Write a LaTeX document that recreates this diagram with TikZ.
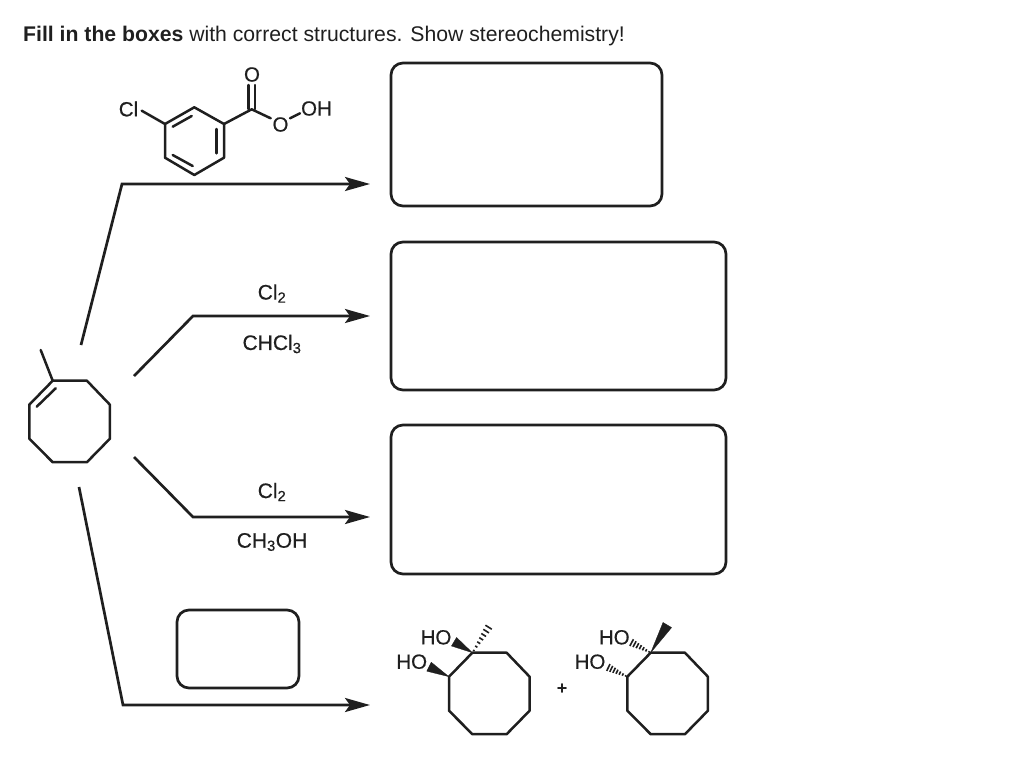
\documentclass[tikz,border=0pt]{standalone}
\usepackage{fontspec}
\setmainfont{Liberation Sans}
\newfontfamily\chemfont[FakeBold=0.5]{Liberation Sans}
\usetikzlibrary{calc,arrows.meta}
\tikzset{
  bond/.style={line width=2.5pt,line cap=round,line join=round,draw=black!88},
  link/.style={line width=2.7pt,line join=miter,draw=black!88},
  arrowlink/.style={link,-{Stealth[length=25pt,width=14pt,inset=5pt]}},
  answerbox/.style={draw=black!88,line width=2.7pt,rounded corners=12pt,fill=white,inner sep=0pt,minimum width=0pt},
  atom/.style={font=\fontsize{20.5}{24}\chemfont,text=black!88,inner sep=0pt},
  reagent/.style={font=\fontsize{21}{24}\chemfont,text=black!88,inner sep=0pt},
  title/.style={font=\fontsize{21.2}{25}\selectfont,text=black!88,inner sep=0pt,anchor=base west},
  wedgefill/.style={fill=black!88,draw=black!88,line width=0.3pt,line join=round}
}
% octagon: #1 prefix, #2 x-left, #3 y-top
\newcommand{\octa}[3]{%
  \coordinate (#1a) at (#2+23.4,#3);
  \coordinate (#1b) at (#2+57.6,#3);
  \coordinate (#1c) at (#2+80.6,#3+24);
  \coordinate (#1d) at (#2+80.6,#3+58);
  \coordinate (#1e) at (#2+57.6,#3+81.5);
  \coordinate (#1f) at (#2+23.4,#3+81.5);
  \coordinate (#1g) at (#2,#3+58);
  \coordinate (#1h) at (#2,#3+24);
  \draw[bond] (#1a)--(#1b)--(#1c)--(#1d)--(#1e)--(#1f)--(#1g)--(#1h)--cycle;
}
\newcommand{\hashbond}[2]{%
  \foreach \t/\w in {0.08/0.8,0.22/1.3,0.36/1.8,0.5/2.3,0.64/2.8,0.78/3.3,0.92/3.8}{
    \draw[line width=1.6pt,draw=black!88]
      ($(#1)!\t!(#2)!\w pt!90:(#2)$) -- ($(#1)!\t!(#2)!\w pt!-90:(#2)$);
  }%
}
\newcommand{\wedgebond}[2]{%
  \fill[wedgefill] (#1) -- ($(#2)!5pt!90:(#1)$) -- ($(#2)!5pt!-90:(#1)$) -- cycle;
}
\begin{document}
\begin{tikzpicture}[x=1pt,y=-1pt]
\useasboundingbox (0,0) rectangle (1024,779);

% title
\node[title] (ttl) at (23,41.5) {\textbf{Fill in the boxes} with correct structures. Show stereochemistry!};

% answer boxes
\node[answerbox,minimum width=271pt,minimum height=143pt] (box1) at (526.5,134.5) {};
\node[answerbox,minimum width=335pt,minimum height=148pt] (box2) at (558.5,316) {};
\node[answerbox,minimum width=335pt,minimum height=149pt] (box3) at (558.5,499.5) {};
\node[answerbox,minimum width=122pt,minimum height=78pt] (box4) at (238,649) {};

% reactant
\octa{r}{29.3}{380.7}
\coordinate (rme) at (40.7,350);
\coordinate (rd1) at (55.7,388.3);
\coordinate (rd2) at (36.7,406.7);
\draw[bond] (ra)--(rme);
\draw[bond] (rd1)--(rd2);

% arrows
\coordinate (s1) at (81,345);  \coordinate (k1) at (122,184); \coordinate (e1) at (370,184);
\coordinate (s2) at (134,376); \coordinate (k2) at (193,316); \coordinate (e2) at (370,316);
\coordinate (s3) at (134,457); \coordinate (k3) at (193,517); \coordinate (e3) at (370,517);
\coordinate (s4) at (79,487);  \coordinate (k4) at (123,705); \coordinate (e4) at (370,705);
\draw[arrowlink] (s1)--(k1)--(e1);
\draw[arrowlink] (s2)--(k2)--(e2);
\draw[arrowlink] (s3)--(k3)--(e3);
\draw[arrowlink] (s4)--(k4)--(e4);

% reagents
\node[reagent] (cl1) at (272,293.5) {Cl\textsubscript{2}};
\node[reagent] (chcl) at (272,344) {CHCl\textsubscript{3}};
\node[reagent] (cl2) at (272,492) {Cl\textsubscript{2}};
\node[reagent] (meoh) at (272,542) {CH\textsubscript{3}OH};

% mCPBA
\coordinate (b1) at (194.3,107.3);
\coordinate (b2) at (224,124);
\coordinate (b3) at (224,157.7);
\coordinate (b4) at (194.3,175);
\coordinate (b5) at (165,157.7);
\coordinate (b6) at (165,124);
\draw[bond] (b1)--(b2)--(b3)--(b4)--(b5)--(b6)--cycle;
\coordinate (d1a) at (172.7,126.7); \coordinate (d1b) at (191.7,116);
\coordinate (d2a) at (216.7,129);   \coordinate (d2b) at (216.7,153.3);
\coordinate (d3a) at (172.7,155);   \coordinate (d3b) at (192.7,166);
\draw[bond] (d1a)--(d1b);
\draw[bond] (d2a)--(d2b);
\draw[bond] (d3a)--(d3b);
\node[atom] (cl) at (128.5,109) {Cl};
\node[atom] (oxo) at (252,74.5) {O};
\node[atom] (ox) at (280.5,124.5) {O};
\node[atom] (oh) at (316.5,108.5) {OH};
\coordinate (cc) at (251.7,109.3);
\coordinate (clb) at (141.7,110.7);
\coordinate (oc1) at (248.4,85); \coordinate (oc1b) at (248.4,109);
\coordinate (oc2) at (255,85);   \coordinate (oc2b) at (255,109);
\coordinate (ce) at (270.7,118.3);
\coordinate (oo1) at (290,118.3); \coordinate (oo2) at (300,113.3);
\draw[bond] (clb)--(b6);
\draw[bond] (b2)--(cc)--(ce);
\draw[bond] (oc1)--(oc1b);
\draw[bond] (oc2)--(oc2b);
\draw[bond] (oo1)--(oo2);

% product 1
\octa{p}{449}{652.7}
\coordinate (pw1) at (454,641.7);
\coordinate (pw2) at (429,666.7);
\coordinate (pm) at (490,625);
\wedgebond{pa}{pw1}
\wedgebond{ph}{pw2}
\hashbond{pa}{pm}
\node[atom] (pho1) at (436,637.3) {HO};
\node[atom] (pho2) at (411.7,661.7) {HO};

% plus
\node[atom,font=\fontsize{18}{20}\selectfont\bfseries] (plus) at (562,689) {+};

% product 2
\octa{q}{627.3}{652.7}
\coordinate (qw1) at (630,641.7);
\coordinate (qw2) at (606.7,666.7);
\coordinate (qm) at (667.3,625);
\wedgebond{qa}{qm}
\hashbond{qa}{qw1}
\hashbond{qh}{qw2}
\node[atom] (qho1) at (614.3,637.3) {HO};
\node[atom] (qho2) at (590,661.7) {HO};
\end{tikzpicture}
\end{document}
